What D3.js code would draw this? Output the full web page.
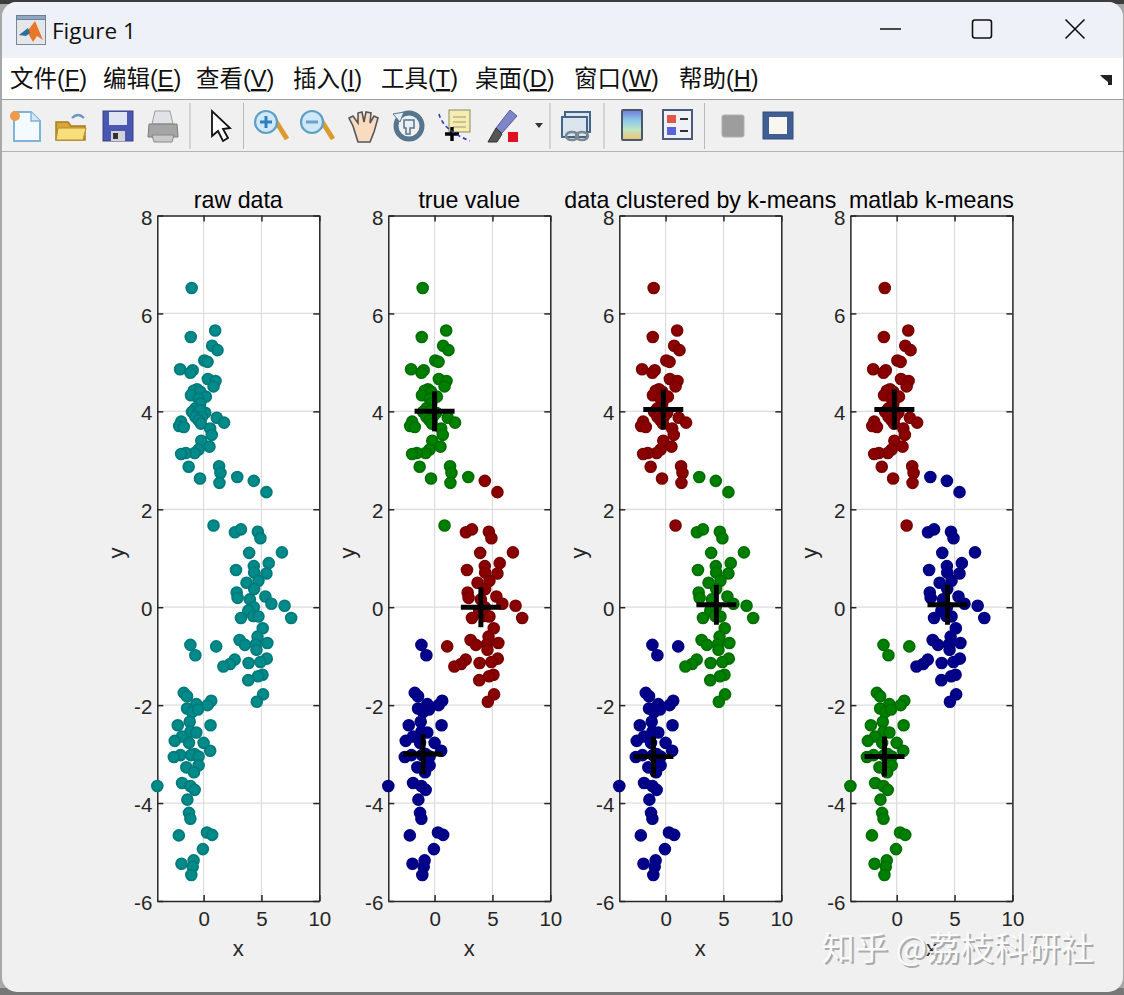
<!DOCTYPE html>
<html>
<head>
<meta charset="utf-8">
<title>Figure 1</title>
<script src="https://cdn.jsdelivr.net/npm/d3@7"></script>
<style>
  html, body { margin: 0; padding: 0; background: #8c8c8c; }
  svg { display: block; }
  text { font-family: "Liberation Sans", Arial, sans-serif; }
  .menu text { font-family: "Noto Sans CJK SC", sans-serif; fill: #111; }
  .menu .latin { font-family: "Liberation Sans", Arial, sans-serif; }
</style>
</head>
<body>
<svg id="fig" width="1124" height="995"></svg>
<script>
// points are listed by the cluster k-means put them in
var topPoints = [[-1.03,6.52],[1.0,5.65],[-1.11,5.52],[0.74,5.34],[1.2,5.25],[0.06,5.04],[0.34,5.01],[-2.03,4.86],
  [-0.94,4.84],[-1.14,4.79],[0.37,4.66],[1.03,4.62],[0.86,4.51],[-0.57,4.45],[-0.86,4.42],[-0.29,4.40],[-1.09,4.33],
  [0.2,4.30],[-0.43,4.26],[-0.29,4.16],[-0.71,4.06],[-1.0,3.99],[0.14,3.97],[-0.57,3.96],[-0.29,4.02],[-0.71,3.89],
  [-0.14,3.89],[1.14,3.87],[-1.94,3.79],[-0.43,3.82],[-0.23,3.75],[1.77,3.77],[-2.11,3.70],[-1.71,3.68],[0.57,3.65],
  [0.71,3.52],[-0.2,3.40],[0.51,3.28],[-0.43,3.22],[-0.77,3.15],[-1.54,3.15],[-1.94,3.13],[-1.29,2.87],[1.34,2.88],
  [1.46,2.74],[-0.31,2.63],[1.37,2.54],[0.86,1.67]];
var midPoints = [[4.34,2.58],[5.43,2.35],[2.71,1.53],[3.23,1.59],[4.69,1.54],[4.91,1.41],[3.94,1.11],[6.77,1.12],
  [5.63,0.90],[4.34,0.84],[2.8,0.76],[4.37,0.71],[5.43,0.69],[4.74,0.54],[3.71,0.50],[4.37,0.37],[2.86,0.30],[2.94,0.19],
  [5.34,0.22],[4.0,0.16],[5.86,0.07],[7.0,0.03],[4.34,0.0],[3.86,-0.07],[4.29,-0.18],[4.74,-0.19],[3.23,-0.22],[7.57,-0.22],
  [5.11,-0.43],[4.66,-0.60],[3.11,-0.67],[3.57,-0.77],[5.51,-0.73],[4.51,-0.76],[4.57,-0.87],[2.69,-1.07],[2.29,-1.16],
  [1.71,-1.21],[5.46,-1.05],[4.91,-1.12],[3.89,-1.14],[5.09,-1.38],[4.71,-1.41],[3.86,-1.49],[5.14,-1.78],[4.6,-1.93]];
var lowPoints = [[-1.14,-0.77],[-0.71,-0.98],[-1.71,-1.75],[-1.43,-1.82],[0.66,-1.91],[0.34,-2.0],[-0.63,-1.98],[-1.43,-2.07],
  [-1.0,-2.14],[-0.49,-2.09],[-1.2,-2.34],[-2.23,-2.41],[0.6,-2.41],[-1.14,-2.54],[-0.63,-2.56],[-1.86,-2.64],[-2.49,-2.73],
  [-1.26,-2.77],[0,-2.77],[0.57,-2.93],[-2.0,-3.02],[-2.57,-3.06],[-0.77,-3.0],[-1.09,-3.02],[-0.43,-3.05],[-0.43,-3.23],
  [-1.49,-3.27],[-0.83,-3.37],[-4.0,-3.65],[-1.86,-3.59],[-1.14,-3.65],[-0.77,-3.73],[-1.4,-3.93],[-1.26,-4.2],[-1.14,-4.32],
  [-2.14,-4.66],[0.29,-4.6],[0.74,-4.65],[-0.06,-4.94],[-1.91,-5.24],[-0.86,-5.17],[-0.94,-5.3],[-1.06,-5.47]];
// the two points where true labels and k-means disagree
var edgeUpper = [[2.91,2.66]];
var edgeLower = [[1.09,-0.80]];

var trueCenters = [[0,4],[4,0],[-1,-3]];
var kmeansCenters = [[-0.2,4.04],[4.39,0.05],[-1.05,-3.05]];

var xTicks = [0,5,10];
var yTicks = [-6,-4,-2,0,2,4,6,8];
var titles = ["raw data","true value","data clustered by k-means","matlab k-means"];
var menuItems = [["文件","F",10],["编辑","E",103],["查看","V",196],["插入","I",293],["工具","T",381],["桌面","D",475],["窗口","W",574],["帮助","H",679]];

var TEAL = "#008b8b", RED = "#8b0000", GREEN = "#008000", BLUE = "#00008b";
var strokeOf = {};
strokeOf[TEAL] = "#007a7a"; strokeOf[RED] = "#7a0000"; strokeOf[GREEN] = "#006f00"; strokeOf[BLUE] = "#000080";

var panels = [
  { left: 157.3, groups: [[TEAL, topPoints.concat(midPoints, lowPoints, edgeUpper, edgeLower)]], centers: [] },
  { left: 388.3, groups: [[GREEN, topPoints.concat(edgeUpper)], [RED, midPoints.concat(edgeLower)], [BLUE, lowPoints]], centers: trueCenters },
  { left: 619.3, groups: [[RED, topPoints], [GREEN, midPoints.concat(edgeUpper)], [BLUE, lowPoints.concat(edgeLower)]], centers: kmeansCenters },
  { left: 850.4, groups: [[RED, topPoints], [BLUE, midPoints.concat(edgeUpper)], [GREEN, lowPoints.concat(edgeLower)]], centers: kmeansCenters }
];

var svg = d3.select("#fig");
var axW = 162, axTop = 215.5, axBottom = 901;

drawWindow();
panels.forEach(function(p, i) { drawPanel(p, titles[i]); });
drawWatermark();

function drawPanel(p, title) {
  var x = d3.scaleLinear().domain([-4,10]).range([p.left, p.left + axW]);
  var y = d3.scaleLinear().domain([-6,8]).range([axBottom, axTop]);
  var g = svg.append("g");

  g.append("rect").attr("x", p.left).attr("y", axTop).attr("width", axW).attr("height", axBottom - axTop).attr("fill", "#fff");

  // grid
  g.selectAll(".gx").data(xTicks.slice(0,2)).enter().append("line")
    .attr("x1", x).attr("x2", x).attr("y1", axTop).attr("y2", axBottom).attr("stroke", "#dcdcdc").attr("stroke-width", 1.2);
  g.selectAll(".gy").data(yTicks.slice(1,7)).enter().append("line")
    .attr("y1", y).attr("y2", y).attr("x1", p.left).attr("x2", p.left + axW).attr("stroke", "#dcdcdc").attr("stroke-width", 1.2);

  // box and ticks, inward on all four sides. String keeps the plain hyphen on negatives
  var sides = [
    [d3.axisBottom(x).tickValues(xTicks).tickFormat(String).tickSizeInner(-6).tickSizeOuter(0).tickPadding(10), 0, axBottom, true],
    [d3.axisLeft(y).tickValues(yTicks).tickFormat(String).tickSizeInner(-6).tickSizeOuter(0).tickPadding(5), p.left, 0, true],
    [d3.axisTop(x).tickValues(xTicks).tickSizeInner(-6).tickSizeOuter(0), 0, axTop, false],
    [d3.axisRight(y).tickValues(yTicks).tickSizeInner(-6).tickSizeOuter(0), p.left + axW, 0, false]
  ];
  sides.forEach(function(s, i) {
    var a = g.append("g").attr("transform", "translate(" + s[1] + "," + s[2] + ")").call(s[0]);
    a.selectAll("path,line").attr("stroke", "#262626").attr("stroke-width", 1.5);
    if (s[3]) {
      a.attr("font-family", null);
      a.selectAll("text").attr("font-size", 20.5).attr("fill", "#262626");
      if (i == 1) a.selectAll("text").attr("dy", "0.42em");
    } else {
      a.selectAll("text").remove();
    }
  });

  g.append("text").attr("x", p.left + axW/2).attr("y", 208).attr("text-anchor", "middle")
    .attr("font-size", 23.2).attr("fill", "#000").text(title);
  g.append("text").attr("x", p.left + axW/2).attr("y", 956).attr("text-anchor", "middle")
    .attr("font-size", 22).attr("fill", "#262626").text("x");
  g.append("text").attr("transform", "translate(" + (p.left - 33) + ",553) rotate(-90)").attr("text-anchor", "middle")
    .attr("font-size", 22).attr("fill", "#262626").text("y");

  p.groups.forEach(function(gr) {
    g.append("g").selectAll("circle").data(gr[1]).enter().append("circle")
      .attr("cx", function(d) { return x(d[0]); })
      .attr("cy", function(d) { return y(d[1]); })
      .attr("r", 5.4)
      .attr("fill", gr[0])
      .attr("stroke", strokeOf[gr[0]])
      .attr("stroke-width", 1.8);
  });

  // centers, fixed size plus markers
  p.centers.forEach(function(c) {
    var cx = x(c[0]), cy = y(c[1]);
    g.append("line").attr("x1", cx - 20).attr("x2", cx + 20).attr("y1", cy).attr("y2", cy).attr("stroke", "#000").attr("stroke-width", 5);
    g.append("line").attr("x1", cx).attr("x2", cx).attr("y1", cy - 20).attr("y2", cy + 20).attr("stroke", "#000").attr("stroke-width", 5);
  });
}

function drawWindow() {
  svg.append("rect").attr("width", 1124).attr("height", 995).attr("fill", "#a8a8a8");
  svg.append("rect").attr("width", 1124).attr("height", 4).attr("fill", "#3c3c3c");
  svg.append("rect").attr("y", 988).attr("width", 1124).attr("height", 7).attr("fill", "#777");

  var clip = svg.append("clipPath").attr("id", "win");
  clip.append("rect").attr("x", 2).attr("y", 2).attr("width", 1121).attr("height", 990).attr("rx", 15);
  var w = svg.append("g").attr("clip-path", "url(#win)");

  w.append("rect").attr("width", 1124).attr("height", 995).attr("fill", "#f0f0f0");
  w.append("rect").attr("width", 1124).attr("height", 58).attr("fill", "#eff1f8");
  w.append("rect").attr("y", 58).attr("width", 1124).attr("height", 41).attr("fill", "#fff");
  w.append("line").attr("x1", 0).attr("x2", 1124).attr("y1", 99.5).attr("y2", 99.5).attr("stroke", "#a0a0a0");
  w.append("line").attr("x1", 0).attr("x2", 1124).attr("y1", 151.5).attr("y2", 151.5).attr("stroke", "#b4b4b4");

  // logo
  var logo = w.append("g");
  logo.append("rect").attr("x", 16.5).attr("y", 15.5).attr("width", 29).attr("height", 29).attr("fill", "#e4e6ea").attr("stroke", "#7d8791");
  logo.append("rect").attr("x", 16.5).attr("y", 15.5).attr("width", 29).attr("height", 4).attr("fill", "#8fa6c4").attr("stroke", "#6f7f92");
  logo.append("path").attr("d", "M19 35 L29 29 L35 21 L43 40 L37 36 L33 42 L28 33 Z").attr("fill", "#e8772a");
  logo.append("path").attr("d", "M19 35 L28 28 L30 33 L26 36 Z").attr("fill", "#2a6f9e");

  w.append("text").attr("x", 52).attr("y", 39).attr("font-size", 22.5).style("font-family", "'Open Sans'").style("fill", "#111").text("Figure 1");

  // caption buttons
  var ctl = w.append("g").attr("fill", "none").attr("stroke", "#111").attr("stroke-width", 1.6);
  ctl.append("line").attr("x1", 880).attr("x2", 901).attr("y1", 29).attr("y2", 29);
  ctl.append("rect").attr("x", 972.5).attr("y", 20).attr("width", 19).attr("height", 18).attr("rx", 2.5);
  ctl.append("path").attr("d", "M1065.5 19.5 L1084.5 38.5 M1084.5 19.5 L1065.5 38.5");

  // menu bar
  var menu = w.append("g").attr("class", "menu");
  menuItems.forEach(function(m) {
    var t = menu.append("text").attr("x", m[2]).attr("y", 87).attr("font-size", 23.5);
    t.append("tspan").text(m[0]);
    t.append("tspan").attr("class", "latin").text("(");
    t.append("tspan").attr("class", "latin").style("text-decoration", "underline").text(m[1]);
    t.append("tspan").attr("class", "latin").text(")");
  });
  w.append("path").attr("d", "M1100 75 L1112 75 L1112 85 L1108 85 L1108 82 L1103 78 Z").attr("fill", "#222");

  drawToolbar(w);
}

function drawToolbar(w) {
  var tb = w.append("g");
  [190, 243.5, 550, 604, 704.5].forEach(function(sx) {
    tb.append("line").attr("x1", sx).attr("x2", sx).attr("y1", 103).attr("y2", 149).attr("stroke", "#b8b8b8");
  });
  function path(d, fill, stroke, sw) {
    return tb.append("path").attr("d", d).attr("fill", fill || "none").attr("stroke", stroke || "none").attr("stroke-width", sw || 1);
  }
  // new
  path("M14 112 L31 112 L40 121 L40 141 L14 141 Z", "#f4fbff", "#7fb4d8", 2);
  path("M31 112 L31 121 L40 121", "#d5e8f5", "#7fb4d8", 1.5);
  tb.append("circle").attr("cx", 15).attr("cy", 116).attr("r", 5).attr("fill", "#ef9a4a");
  // open
  path("M56 122 L68 122 L71 126 L85 126 L85 140 L56 140 Z", "#d9a638", "#a67c1e", 1.5);
  path("M58 128 L86 128 L83 140 L56 140 Z", "#f6de7a", "#b58c28", 1);
  path("M72 118 Q78 112 84 118", null, "#6a97c2", 2.4);
  // save
  tb.append("rect").attr("x", 103).attr("y", 111).attr("width", 30).attr("height", 30).attr("fill", "#4a57b0").attr("stroke", "#37418a");
  tb.append("rect").attr("x", 109).attr("y", 112).attr("width", 18).attr("height", 13).attr("fill", "#dfe4f4");
  tb.append("rect").attr("x", 111).attr("y", 131).attr("width", 14).attr("height", 10).attr("fill", "#d4d4d8");
  tb.append("rect").attr("x", 113).attr("y", 133).attr("width", 5).attr("height", 6).attr("fill", "#333");
  // print
  path("M155 111 L170 111 L173 124 L152 124 Z", "#dfe2e6", "#9aa0a6");
  path("M149 124 L177 124 L178 137 L148 137 Z", "#a5a5a5", "#7c7c7c");
  path("M152 135 L174 135 L172 142 L154 142 Z", "#c9c9c9", "#888");
  // cursor
  path("M212 111 L212 136 L218 131 L223 141 L228 138 L223 129 L230 128 Z", "#fff", "#111", 1.8);
  // zoom in and out
  [[268, "#2f7fc0", true], [314, "#6aa3c8", false]].forEach(function(z) {
    tb.append("line").attr("x1", z[0] + 7).attr("y1", 127 - 7).attr("x2", z[0] + 19).attr("y2", 139)
      .attr("stroke", "#dd9a33").attr("stroke-width", 5);
    tb.append("circle").attr("cx", z[0] - 2).attr("cy", 122).attr("r", 11).attr("fill", "#cfe8f7").attr("stroke", "#5f9fc4").attr("stroke-width", 2.2);
    path("M" + (z[0] - 8) + " 122 H" + (z[0] + 4), null, z[1], 3);
    if (z[2]) path("M" + (z[0] - 2) + " 116 V128", null, z[1], 3);
  });
  // hand
  path("M353 126 L349 118 L353 116 L358 123 L358 113 L362 112 L364 122 L366 112 L371 113 L370 123 L374 116 L378 118 L374 132 L370 142 L358 142 Z", "#f9dcc0", "#555", 1.6);
  // rotate
  tb.append("circle").attr("cx", 409).attr("cy", 126).attr("r", 13).attr("fill", "none").attr("stroke", "#56758f").attr("stroke-width", 5);
  path("M404 120 H414 V128 H410 V134 H406 V128 H404 Z", "#e8eef3", "#56758f", 1.5);
  path("M393 114 L404 112 L400 122 Z", "#e8eef3", "#56758f", 1);
  // datatip
  tb.append("rect").attr("x", 449).attr("y", 110).attr("width", 21).attr("height", 22).attr("fill", "#f4ecb0").attr("stroke", "#8d8a5a");
  path("M453 117 H466 M453 122 H466 M453 127 H466", null, "#9c9870", 1.2);
  path("M452 127 V141 M445 134 H459", null, "#000", 3.4);
  path("M439 114 Q443 130 470 141", null, "#2f3fb0", 1.6).attr("stroke-dasharray", "4 3");
  // brush
  path("M510 110 L517 116 L502 133 L496 128 Z", "#7d86c9", "#5a5f90");
  path("M496 128 L502 134 L497 142 L488 142 Z", "#555", "#333");
  tb.append("rect").attr("x", 508).attr("y", 132).attr("width", 10).attr("height", 10).attr("fill", "#e01020");
  path("M535 123 L543 123 L539 128 Z", "#333");
  // link
  tb.append("rect").attr("x", 565).attr("y", 112).attr("width", 25).attr("height", 20).attr("fill", "#dbe5ee").attr("stroke", "#44658a").attr("stroke-width", 2);
  tb.append("rect").attr("x", 562).attr("y", 117).attr("width", 25).attr("height", 20).attr("fill", "#dbe5ee").attr("stroke", "#44658a").attr("stroke-width", 2);
  path("M566 136 a6 4 0 0 1 12 0 a6 4 0 0 1 -12 0 M576 136 a6 4 0 0 1 12 0 a6 4 0 0 1 -12 0", "none", "#7d8790", 2.6);
  // colorbar, legend
  var grad = svg.append("defs").append("linearGradient").attr("id", "cbar").attr("x1", 0).attr("y1", 0).attr("x2", 0).attr("y2", 1);
  [["0%","#6f78d8"],["35%","#8fc9ea"],["65%","#bfe6c4"],["100%","#f3bf70"]].forEach(function(s) {
    grad.append("stop").attr("offset", s[0]).attr("stop-color", s[1]);
  });
  tb.append("rect").attr("x", 622).attr("y", 110).attr("width", 20).attr("height", 30).attr("rx", 1).attr("fill", "url(#cbar)").attr("stroke", "#49586b").attr("stroke-width", 2);
  tb.append("rect").attr("x", 663).attr("y", 110).attr("width", 29).attr("height", 29).attr("fill", "#eef1f6").attr("stroke", "#4a5a78").attr("stroke-width", 2);
  tb.append("rect").attr("x", 667).attr("y", 115).attr("width", 9).attr("height", 8).attr("fill", "#e0584a");
  tb.append("rect").attr("x", 667).attr("y", 127).attr("width", 9).attr("height", 8).attr("fill", "#5a62dc");
  path("M680 119 H688 M680 131 H688", null, "#333", 2);
  // hide and show plot tools
  tb.append("rect").attr("x", 722).attr("y", 115).attr("width", 22).attr("height", 22).attr("rx", 2).attr("fill", "#9d9d9d").attr("stroke", "#b0b0b0");
  tb.append("rect").attr("x", 763).attr("y", 112).attr("width", 30).attr("height", 27).attr("fill", "#3f5f92").attr("stroke", "#33507e");
  tb.append("rect").attr("x", 769).attr("y", 117).attr("width", 18).attr("height", 17).attr("fill", "#f7f7f0");
}

function drawWatermark() {
  var wm = svg.append("g").attr("font-size", 33.3).attr("opacity", 0.85);
  wm.append("text").attr("x", 823.5).attr("y", 961.5).style("font-family", "'Noto Sans CJK SC'").style("fill", "#a0a0a0").text("知乎 @荔枝科研社");
  wm.append("text").attr("x", 821.5).attr("y", 959.5).style("font-family", "'Noto Sans CJK SC'").style("fill", "#fcfcfc").text("知乎 @荔枝科研社");
}
</script>
</body>
</html>
